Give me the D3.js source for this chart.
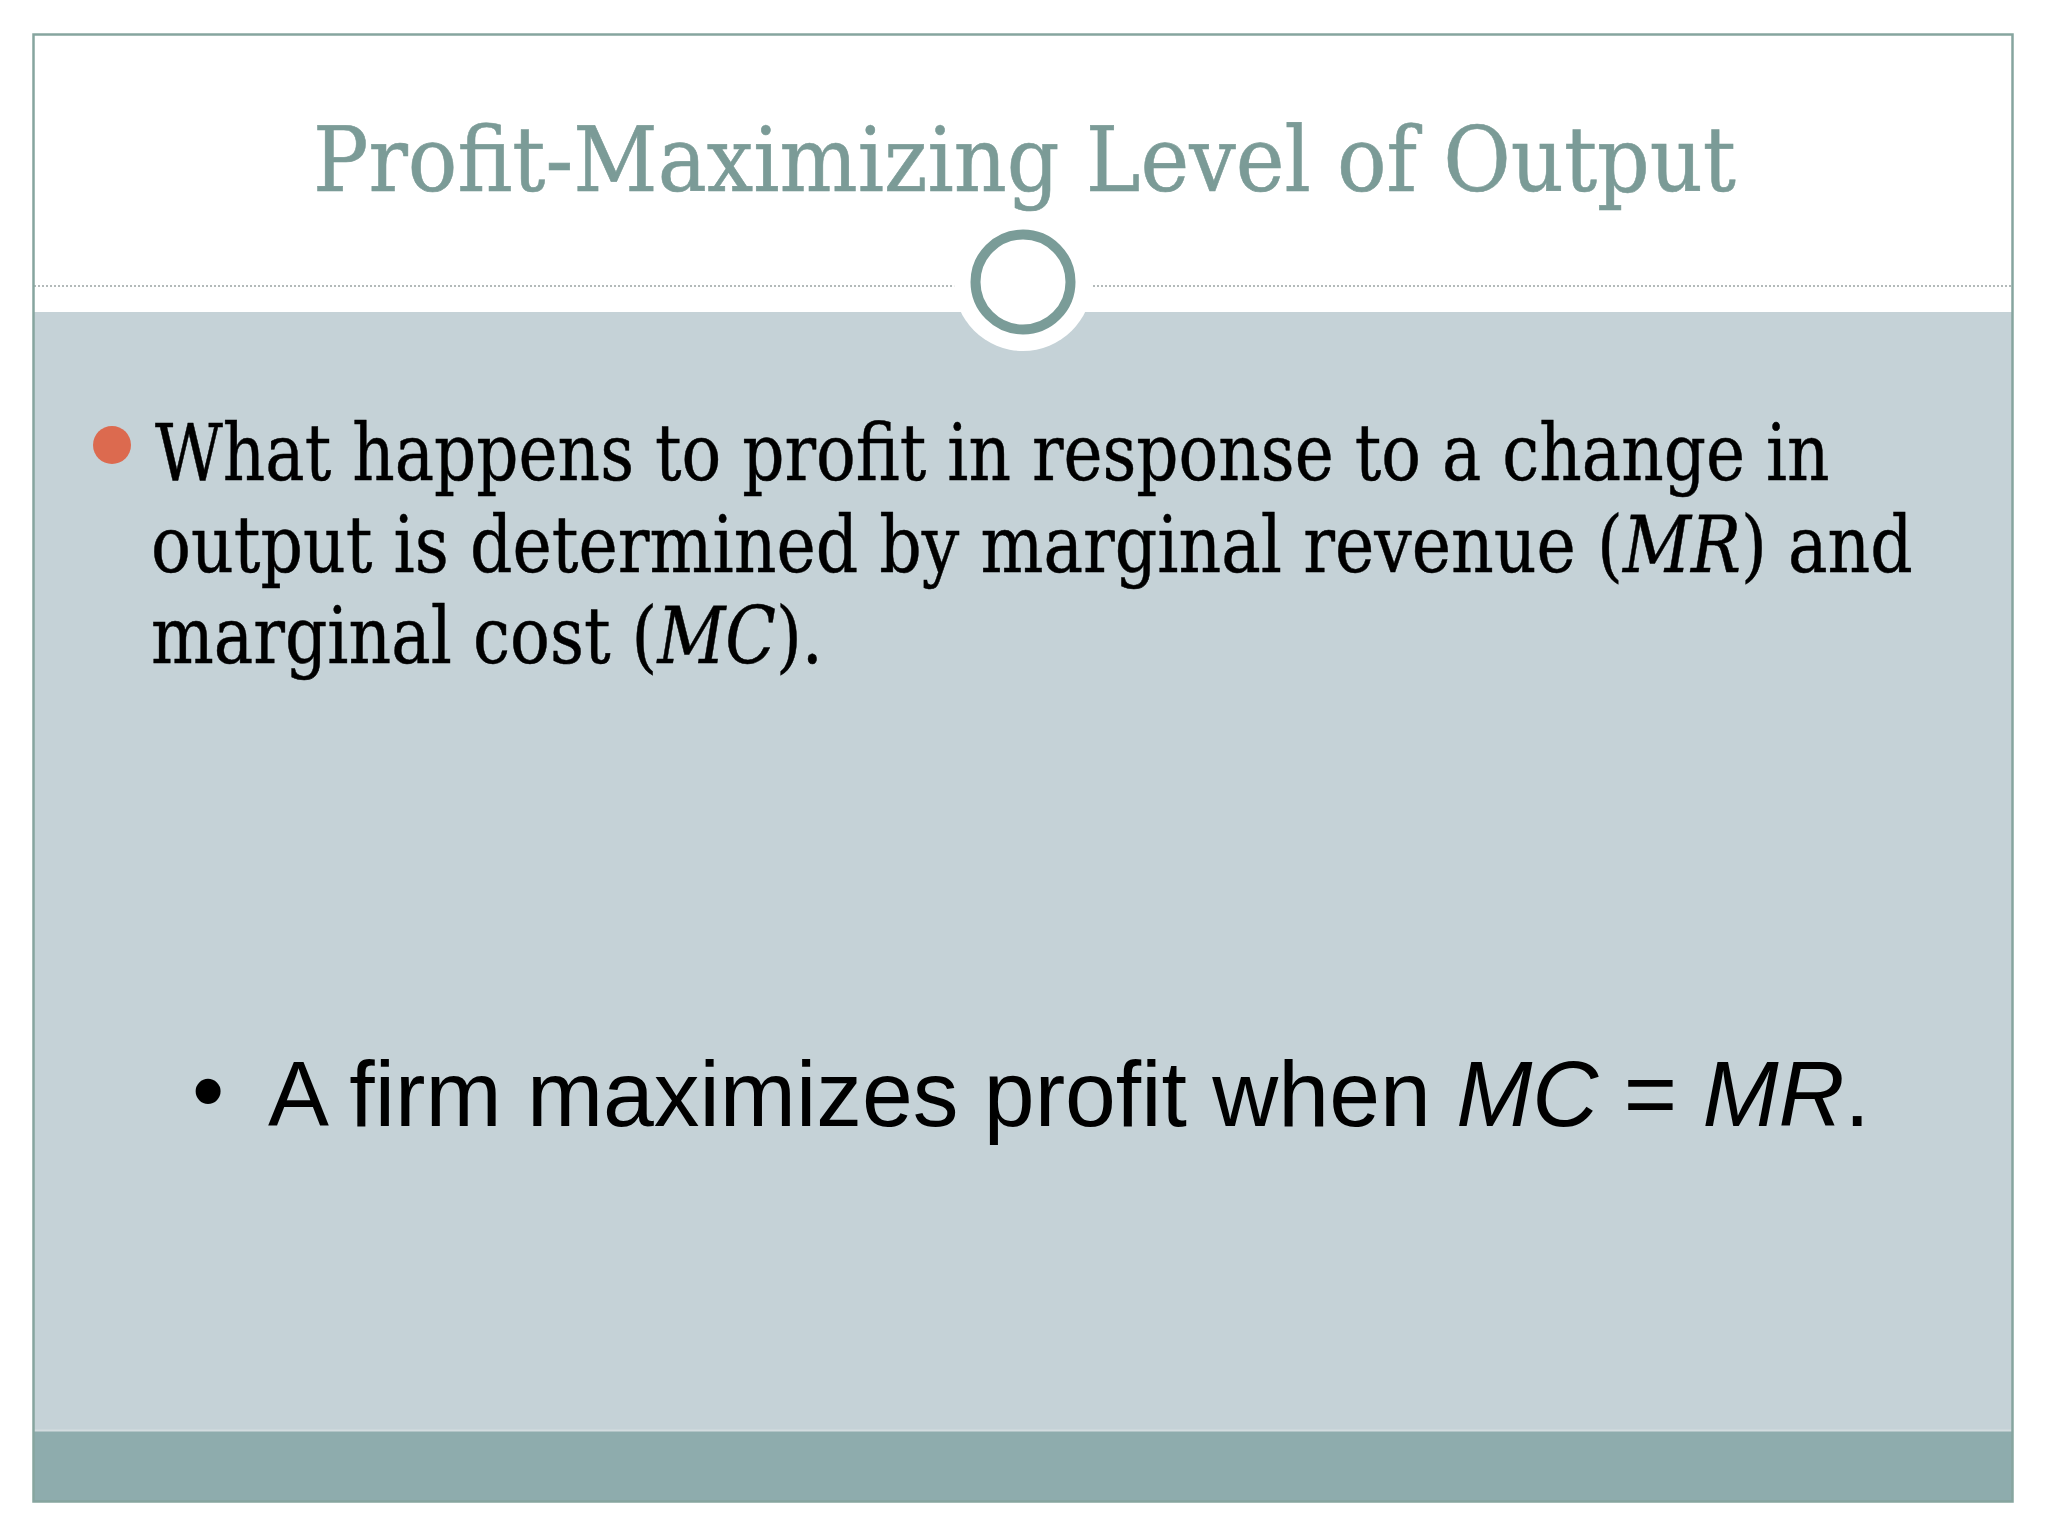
<!DOCTYPE html>
<html>
<head>
<meta charset="utf-8">
<script src="https://cdn.jsdelivr.net/npm/d3@7"></script>
<style>
  body { margin: 0; background: #fff; }
</style>
</head>
<body>
<script>
/* Slide content */
var titleText = "Profit-Maximizing Level of Output";

/* each line is a list of [text, italic] runs */
var bulletLines = [
  [["What happens to profit in response to a change in", false]],
  [["output is determined by marginal revenue (", false], ["MR", true], [") and", false]],
  [["marginal cost (", false], ["MC", true], [").", false]]
];
var lineWidths = [1675, 1762, 672];

var subBullet = [["A firm maximizes profit when ", false], ["MC", true], [" = ", false], ["MR", true], [".", false]];

/* page */
var W = 2048, H = 1536;
var svg = d3.select("body").append("svg")
    .attr("width", W)
    .attr("height", H);

/* squeeze a text horizontally so it spans the given width */
function fitText(sel, x, y, width) {
    var natural = sel.node().getComputedTextLength();
    sel.attr("transform", "translate(" + x + "," + y + ") scale(" + (width / natural) + ",1)");
}

function addRuns(t, runs) {
    runs.forEach(function(r) {
        t.append("tspan")
            .style("font-style", r[1] ? "italic" : "normal")
            .text(r[0]);
    });
}

/* body panel and footer band */
svg.append("rect")
    .attr("x", 34).attr("y", 312)
    .attr("width", 1979).attr("height", 1118)
    .attr("fill", "#c5d2d7");

svg.append("rect")
    .attr("x", 34).attr("y", 1430)
    .attr("width", 1979).attr("height", 72)
    .attr("fill", "#8eacad");

svg.append("line")
    .attr("x1", 34).attr("x2", 2013)
    .attr("y1", 1430.5).attr("y2", 1430.5)
    .attr("stroke", "#d3dcdf")
    .attr("stroke-width", 2);

/* dotted rule under the title */
[[34, 955], [1093, 2013]].forEach(function(seg) {
    svg.append("line")
        .attr("x1", seg[0]).attr("x2", seg[1])
        .attr("y1", 286).attr("y2", 286)
        .attr("stroke", "#9aa4a4")
        .attr("stroke-width", 1.5)
        .attr("stroke-dasharray", "2,2");
});

/* white halo and ring */
svg.append("circle")
    .attr("cx", 1023).attr("cy", 282).attr("r", 69)
    .attr("fill", "#fff");

svg.append("circle")
    .attr("cx", 1023).attr("cy", 282).attr("r", 47.5)
    .attr("fill", "#fff")
    .attr("stroke", "#7a9c98")
    .attr("stroke-width", 10);

/* frame */
svg.append("rect")
    .attr("x", 33.5).attr("y", 34.5)
    .attr("width", 1979).attr("height", 1467)
    .attr("fill", "none")
    .attr("stroke", "#86a59f")
    .attr("stroke-width", 2.5);

/* title */
var title = svg.append("text")
    .style("font-family", "'DejaVu Serif', serif")
    .style("font-size", "89px")
    .attr("fill", "#7b9b97")
    .attr("stroke", "#7b9b97")
    .attr("stroke-width", 0.6)
    .text(titleText);
fitText(title, 313, 191, 1423);

/* first bullet */
svg.append("circle")
    .attr("cx", 112).attr("cy", 445).attr("r", 19)
    .attr("fill", "#dc6a4f");

var lineStarts = [[155, 480], [151, 572], [151, 663]];

svg.selectAll(".bodyline")
    .data(bulletLines)
    .enter().append("text")
    .attr("class", "bodyline")
    .style("font-family", "'DejaVu Serif', serif")
    .style("font-size", "79px")
    .attr("fill", "#000")
    .attr("stroke", "#000")
    .attr("stroke-width", 0.5)
    .each(function(runs, i) {
        var t = d3.select(this);
        addRuns(t, runs);
        fitText(t, lineStarts[i][0], lineStarts[i][1], lineWidths[i]);
    });

/* second bullet */
svg.append("text")
    .attr("x", 192).attr("y", 1122)
    .style("font-family", "'Liberation Sans', Arial, sans-serif")
    .style("font-size", "92px")
    .attr("fill", "#000")
    .text("\u2022");

var sub = svg.append("text")
    .style("font-family", "'Liberation Sans', Arial, sans-serif")
    .style("font-size", "93px")
    .attr("fill", "#000");
addRuns(sub, subBullet);
fitText(sub, 268, 1126, 1602);
</script>
</body>
</html>
